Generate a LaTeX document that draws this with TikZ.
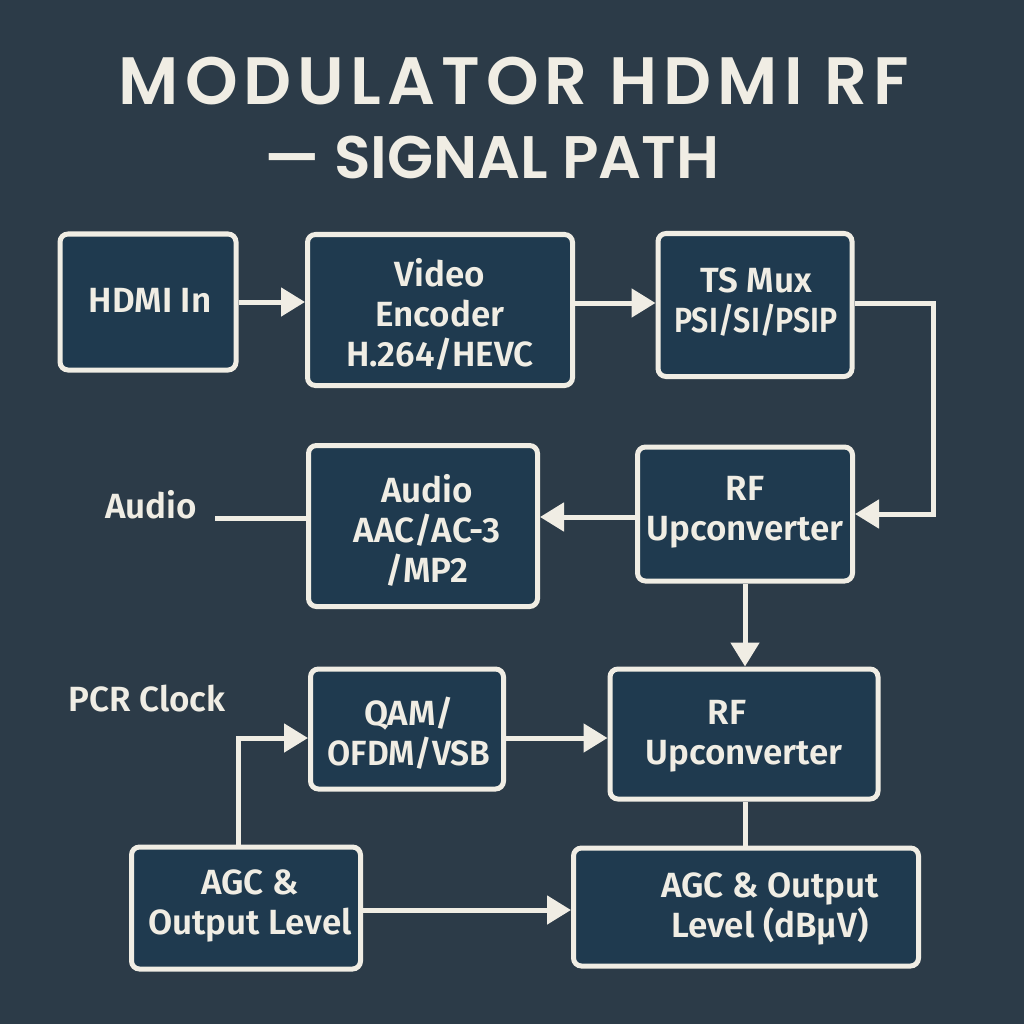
\documentclass[tikz,border=0pt]{standalone}
\usepackage{fontspec}
\usepackage{graphicx}
\setmainfont{Fira Sans}[BoldFont={Fira Sans SemiBold}]
\newfontfamily\titlefont{Poppins}[BoldFont={Poppins SemiBold}]
\newfontfamily\titlefontwide{Poppins}[BoldFont={Poppins SemiBold}, LetterSpace=9]
\usetikzlibrary{arrows.meta}
\definecolor{bgc}{HTML}{2C3B48}
\definecolor{boxc}{HTML}{1F3A4F}
\definecolor{cream}{HTML}{F0EDE4}
\tikzset{
  blk/.style={draw=cream, fill=boxc, line width=5pt, rounded corners=8pt, inner sep=0pt},
  txt/.style={text=cream, font=\fontsize{35}{40}\selectfont\bfseries, align=center, inner sep=0pt},
  conn/.style={draw=cream, line width=5pt},
  arr/.style={conn, -{Triangle[length=24pt,width=28pt]}},
  ttl/.style={text=cream, inner sep=0pt}
}
\begin{document}
\begin{tikzpicture}[x=1pt,y=-1pt]
\fill[bgc] (0,0) rectangle (1024,1024);
\useasboundingbox (0,0) rectangle (1024,1024);
% title
\node[ttl, font=\titlefontwide\bfseries\fontsize{67}{80}\selectfont] (title1) at (514,81) {MODULATOR HDMI RF};
\node[ttl, font=\titlefont\bfseries\fontsize{60}{72}\selectfont] (title2) at (492,157) {— SIGNAL PATH};
% boxes
\node[blk, minimum width=176pt, minimum height=136pt] (hdmi) at (148,302) {};
\node[blk, minimum width=265pt, minimum height=151pt] (venc) at (440,310) {};
\node[blk, minimum width=194pt, minimum height=143pt] (tsmux) at (755,305) {};
\node[blk, minimum width=215pt, minimum height=134pt] (rf1) at (745,514) {};
\node[blk, minimum width=229pt, minimum height=161pt] (abox) at (423,526) {};
\node[blk, minimum width=193pt, minimum height=120pt] (qam) at (407,729) {};
\node[blk, minimum width=268pt, minimum height=130pt] (rf2) at (744,734) {};
\node[blk, minimum width=229pt, minimum height=122pt] (agc1) at (246,908) {};
\node[blk, minimum width=345pt, minimum height=118pt] (agc2) at (746,907) {};
% texts
\node[txt] (t-hdmi) at (150,300) {HDMI In};
\node[txt] (t-venc) at (440,314) {Video\\Encoder\\H.264/HEVC};
\node[txt] (t-ts) at (756,302) {TS Mux\\\scalebox{0.87}[1]{PSI/SI/PSIP}};
\node[txt] (t-rf1) at (745,512) {RF\\Upconverter};
\node[txt] (t-aud) at (427,530) {Audio\\AAC/AC-3\\/MP2};
\node[txt] (t-qam) at (409,733) {QAM/\\\scalebox{0.96}[1]{OFDM/VSB}};
\node[txt] (t-rf2) at (744,736) {RF\hspace*{34pt}\\Upconverter};
\node[txt] (t-agc1) at (250,906) {AGC \&\\Output Level};
\node[txt] (t-agc2) at (770,909) {AGC \& Output\\Level (dBµV)};
\node[txt] (l-audio) at (151,505) {Audio};
\node[txt] (l-pcr) at (147,699) {PCR Clock};
% connectors
\coordinate (audend) at (215,518);
\coordinate (tsturn) at (933,303);
\coordinate (agcturn) at (238,738);
\draw[arr] (hdmi.east |- 0,302) -- (venc.west |- 0,302);
\draw[arr] (venc.east |- tsturn) -- (tsmux.west |- tsturn);
\draw[arr] (tsmux.east |- tsturn) -- (tsturn) |- (rf1.east);
\draw[arr] (rf1.west |- 0,517) -- (abox.east |- 0,517);
\draw[conn] (audend) -- (abox.west |- audend);
\draw[arr] (rf1.south -| 745,0) -- (rf2.north -| 745,0);
\draw[arr] (qam.east |- agcturn) -- (rf2.west |- agcturn);
\draw[arr] (agc1.north -| agcturn) -- (agcturn) -- (qam.west |- agcturn);
\draw[arr] (agc1.east |- 0,910) -- (agc2.west |- 0,910);
\draw[conn] (rf2.south -| 745,0) -- (agc2.north -| 745,0);
\end{tikzpicture}
\end{document}
